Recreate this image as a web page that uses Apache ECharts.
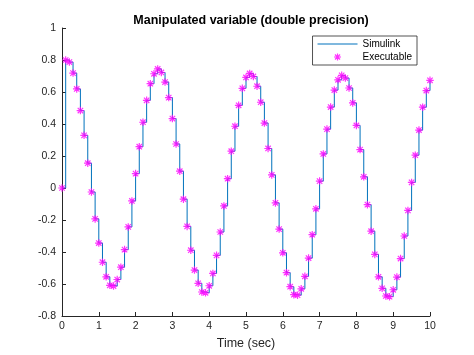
<!DOCTYPE html>
<html>
<head>
<meta charset="utf-8">
<script src="https://cdn.jsdelivr.net/npm/echarts@6/dist/echarts.min.js"></script>
<style>
html,body{margin:0;padding:0;background:#fff;}
#chart{width:474px;height:355px;}
</style>
</head>
<body>
<div id="chart"></div>
<script>
const chartTitle = 'Manipulated variable (double precision)';
const xAxisName = 'Time (sec)';
const seriesNames = ['Simulink', 'Executable'];

const timeSec = [
  0.0,0.1,0.2,0.3,0.4,0.5,0.6,0.7,0.8,0.9,
  1.0,1.1,1.2,1.3,1.4,1.5,1.6,1.7,1.8,1.9,
  2.0,2.1,2.2,2.3,2.4,2.5,2.6,2.7,2.8,2.9,
  3.0,3.1,3.2,3.3,3.4,3.5,3.6,3.7,3.8,3.9,
  4.0,4.1,4.2,4.3,4.4,4.5,4.6,4.7,4.8,4.9,
  5.0,5.1,5.2,5.3,5.4,5.5,5.6,5.7,5.8,5.9,
  6.0,6.1,6.2,6.3,6.4,6.5,6.6,6.7,6.8,6.9,
  7.0,7.1,7.2,7.3,7.4,7.5,7.6,7.7,7.8,7.9,
  8.0,8.1,8.2,8.3,8.4,8.5,8.6,8.7,8.8,8.9,
  9.0,9.1,9.2,9.3,9.4,9.5,9.6,9.7,9.8,9.9,
  10.0
];

const simulinkValues = [
  0.000,0.800,0.787,0.718,0.619,0.484,0.329,0.155,-0.025,-0.193,
  -0.344,-0.464,-0.555,-0.608,-0.613,-0.572,-0.495,-0.385,-0.243,-0.081,
  0.090,0.258,0.411,0.548,0.652,0.714,0.744,0.722,0.662,0.565,
  0.434,0.275,0.105,-0.070,-0.240,-0.389,-0.513,-0.596,-0.650,-0.655,
  -0.611,-0.534,-0.421,-0.275,-0.112,0.058,0.230,0.386,0.517,0.623,
  0.691,0.716,0.697,0.636,0.536,0.406,0.247,0.082,-0.093,-0.257,
  -0.405,-0.529,-0.617,-0.667,-0.670,-0.630,-0.552,-0.438,-0.292,-0.130,
  0.043,0.213,0.368,0.506,0.612,0.676,0.704,0.687,0.625,0.532,
  0.391,0.240,0.070,-0.104,-0.270,-0.415,-0.555,-0.627,-0.675,-0.679,
  -0.636,-0.557,-0.441,-0.300,-0.140,0.035,0.205,0.362,0.505,0.609,
  0.673
];

const executableValues = [
  0.000,0.800,0.787,0.718,0.619,0.484,0.329,0.155,-0.025,-0.193,
  -0.344,-0.464,-0.555,-0.608,-0.613,-0.572,-0.495,-0.385,-0.243,-0.081,
  0.090,0.258,0.411,0.548,0.652,0.714,0.744,0.722,0.662,0.565,
  0.434,0.275,0.105,-0.070,-0.240,-0.389,-0.513,-0.596,-0.650,-0.655,
  -0.611,-0.534,-0.421,-0.275,-0.112,0.058,0.230,0.386,0.517,0.623,
  0.691,0.716,0.697,0.636,0.536,0.406,0.247,0.082,-0.093,-0.257,
  -0.405,-0.529,-0.617,-0.667,-0.670,-0.630,-0.552,-0.438,-0.292,-0.130,
  0.043,0.213,0.368,0.506,0.612,0.676,0.704,0.687,0.625,0.532,
  0.391,0.240,0.070,-0.104,-0.270,-0.415,-0.555,-0.627,-0.675,-0.679,
  -0.636,-0.557,-0.441,-0.300,-0.140,0.035,0.205,0.362,0.505,0.609,
  0.673
];

const xTicks = { min: 0, max: 10, interval: 1 };
const yTicks = { min: -0.8, max: 1, interval: 0.2 };

const simData = timeSec.map((t, i) => [t, simulinkValues[i]]);
const exeData = timeSec.map((t, i) => [t, executableValues[i]]);

const FONT = '"Liberation Sans", Arial, Helvetica, sans-serif';
const AX = '#262626';
const BLUE = '#0072BD';
const MAGENTA = '#FF00FF';
const asterisk = 'path://M0,-1L0,1M-1,0L1,0M-0.72,-0.72L0.72,0.72M-0.72,0.72L0.72,-0.72';

const chart = echarts.init(document.getElementById('chart'), null, { renderer: 'canvas' });
chart.setOption({
  animation: false,
  backgroundColor: '#fff',
  textStyle: { fontFamily: FONT },
  title: {
    text: chartTitle,
    left: 246,
    textAlign: 'center',
    top: 9,
    textStyle: { fontSize: 12.5, fontWeight: 'bold', color: '#000', fontFamily: FONT }
  },
  grid: { left: 62, right: 44, top: 28, bottom: 38, containLabel: false },
  legend: {
    orient: 'vertical',
    right: 57,
    top: 36,
    padding: [3, 5, 3, 5],
    itemGap: 3,
    itemWidth: 40,
    itemHeight: 7,
    borderColor: AX,
    borderWidth: 0.8,
    borderRadius: 0,
    backgroundColor: '#fff',
    textStyle: { fontSize: 10, color: '#000', fontFamily: FONT },
    data: [
      { name: seriesNames[0], icon: 'path://M0,0L40,0L40,1.1L0,1.1Z',
        itemStyle: { color: BLUE, borderWidth: 0, borderColor: BLUE } },
      { name: seriesNames[1], icon: asterisk,
        itemStyle: { color: MAGENTA, borderColor: MAGENTA, borderWidth: 1.2 } }
    ]
  },
  xAxis: {
    type: 'value',
    min: xTicks.min, max: xTicks.max, interval: xTicks.interval,
    name: xAxisName,
    nameLocation: 'middle',
    nameGap: 21,
    nameTextStyle: { fontSize: 12.5, color: AX, fontFamily: FONT },
    axisLine: { show: true, onZero: false, lineStyle: { color: AX, width: 1 } },
    axisTick: { show: true, inside: true, length: 4, lineStyle: { color: AX } },
    axisLabel: { fontSize: 10.5, color: AX, margin: 5, fontFamily: FONT },
    splitLine: { show: false }
  },
  yAxis: {
    type: 'value',
    min: yTicks.min, max: yTicks.max, interval: yTicks.interval,
    axisLine: { show: true, onZero: false, lineStyle: { color: AX, width: 1 } },
    axisTick: { show: true, inside: true, length: 4, lineStyle: { color: AX } },
    axisLabel: { fontSize: 10.5, color: AX, margin: 6, fontFamily: FONT,
      formatter: v => String(Math.round(v * 10) / 10) },
    splitLine: { show: false }
  },
  series: [
    {
      name: seriesNames[0],
      type: 'line',
      step: 'end',
      data: simData,
      showSymbol: false,
      symbol: 'none',
      lineStyle: { color: BLUE, width: 1 },
      itemStyle: { color: BLUE },
      z: 2
    },
    {
      name: seriesNames[1],
      type: 'scatter',
      data: exeData,
      symbol: asterisk,
      symbolSize: 7.5,
      itemStyle: { color: MAGENTA, borderColor: MAGENTA, borderWidth: 1.2 },
      z: 3
    }
  ]
});
</script>
</body>
</html>
